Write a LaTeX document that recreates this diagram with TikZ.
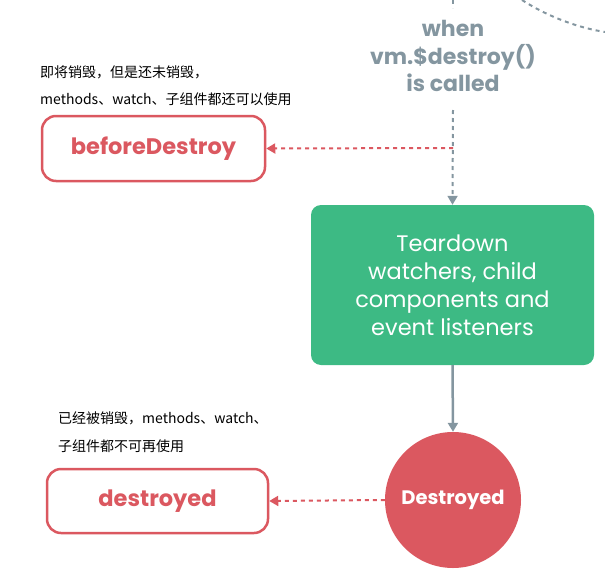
\documentclass[tikz,border=0pt]{standalone}
\usepackage{fontspec}
\setmainfont{Poppins}
\newfontfamily\cjk{Noto Sans CJK SC}
\usetikzlibrary{arrows.meta}
\definecolor{vred}{HTML}{DB5860}
\definecolor{vgreen}{HTML}{3DBA84}
\definecolor{vgrey}{HTML}{8496A0}
\tikzset{
  hook/.style={draw=vred,line width=2.5pt,rounded corners=14pt,fill=white,text=vred,font=\fontsize{22.5}{26}\selectfont\bfseries},
  note/.style={anchor=west,font=\cjk\fontsize{14}{16}\selectfont,inner sep=0},
  rdash/.style={draw=vred,line width=2pt,dash pattern=on 4pt off 4pt,-{Triangle[length=9pt,width=10pt]}},
  gdash/.style={draw=vgrey,line width=2pt,dash pattern=on 4pt off 4pt},
}
\begin{document}
\begin{tikzpicture}[x=1pt,y=-1pt]
\useasboundingbox (0,0) rectangle (605,570);
\draw[gdash] (453,0) -- (453,8);
\draw[gdash] (522,0) .. controls (550,18) and (580,28) .. (605,32);
\node[text=vgrey,align=center,font=\fontsize{22}{27.5}\selectfont\bfseries] (when) at (453,56) {when\\vm.\$destroy()\\is called};
\node[hook,minimum width=223pt,minimum height=65pt] (bd) at (153.5,148.5) {beforeDestroy};
\node[note] (n1) at (40,72) {即将销毁，但是还未销毁，};
\node[note] (n2) at (40,99) {methods、watch、子组件都还可以使用};
\node[fill=vgreen,rounded corners=10pt,minimum width=283pt,minimum height=160pt,text=white,align=center,font=\fontsize{22.5}{28}\selectfont] (td) at (452.5,285) {Teardown\\watchers, child\\components and\\event listeners};
\coordinate (j) at (453,148);
\draw[gdash,-{Triangle[length=9pt,width=10pt]}] (453,110) -- (td.north);
\draw[rdash] (j) -- (bd.east);
\node[circle,fill=vred,minimum size=136pt,text=white,font=\fontsize{19.5}{22}\selectfont\bfseries] (ds) at (453,500) {Destroyed};
\draw[draw=vgrey,line width=2.5pt,-{Triangle[length=9pt,width=10pt]}] (td.south) -- (ds.north);
\node[hook,minimum width=221pt,minimum height=64pt] (dd) at (157.5,501) {destroyed};
\draw[rdash] (ds.west) -- (dd.east);
\node[note] (n3) at (58,418) {已经被销毁，methods、watch、};
\node[note] (n4) at (58,446) {子组件都不可再使用};
\end{tikzpicture}
\end{document}
